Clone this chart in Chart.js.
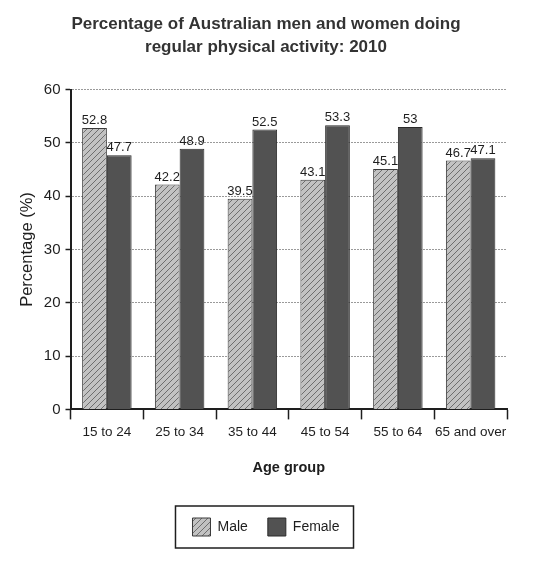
<!DOCTYPE html>
<html>
<head>
<meta charset="utf-8">
<script src="https://cdn.jsdelivr.net/npm/chart.js@4/dist/chart.umd.min.js"></script>
<style>
  html, body { margin: 0; padding: 0; background: #fff; }
  #wrap { width: 548px; height: 573px; }
</style>
</head>
<body>
<div id="wrap"><canvas id="myChart" width="548" height="573"></canvas></div>
<script>
const ageGroups = ['15 to 24', '25 to 34', '35 to 44', '45 to 54', '55 to 64', '65 and over'];
const maleValues = [52.8, 42.2, 39.5, 43.1, 45.1, 46.7];
const femaleValues = [47.7, 48.9, 52.5, 53.3, 53, 47.1];
const yTicks = [0, 10, 20, 30, 40, 50, 60];

const FONT = '"Liberation Sans", Arial, sans-serif';

// hatched fill for male bars
function hatch() {
  const c = document.createElement('canvas');
  c.width = 6; c.height = 6;
  const g = c.getContext('2d');
  g.fillStyle = '#c2c2c2';
  g.fillRect(0, 0, 6, 6);
  g.strokeStyle = '#6e6e6e';
  g.lineWidth = 1;
  g.beginPath();
  g.moveTo(0, 6); g.lineTo(6, 0);
  g.moveTo(-1, 1); g.lineTo(1, -1);
  g.moveTo(5, 7); g.lineTo(7, 5);
  g.stroke();
  return g.createPattern(c, 'repeat');
}

// value labels above the bars
const barLabels = {
  id: 'barLabels',
  afterDatasetsDraw(chart) {
    const ctx = chart.ctx;
    ctx.save();
    ctx.font = '13px "Liberation Sans Narrow", "Liberation Sans", Arial, sans-serif';
    ctx.fillStyle = '#1e1e1e';
    ctx.textAlign = 'center';
    ctx.textBaseline = 'bottom';
    chart.data.datasets.forEach((ds, i) => {
      chart.getDatasetMeta(i).data.forEach((bar, j) => {
        ctx.fillText(String(ds.data[j]), bar.x, bar.y - 1);
      });
    });
    ctx.restore();
  }
};

// frame around the legend
const legendBox = {
  id: 'legendBox',
  afterDraw(chart) {
    const boxes = chart.legend.legendHitBoxes;
    if (!boxes || !boxes.length) return;
    const l = Math.min(...boxes.map(b => b.left)) - 17;
    const r = Math.max(...boxes.map(b => b.left + b.width)) + 14;
    const cy = boxes[0].top + boxes[0].height / 2;
    const ctx = chart.ctx;
    ctx.save();
    ctx.strokeStyle = '#1e1e1e';
    ctx.lineWidth = 1.5;
    ctx.strokeRect(l, cy - 21, r - l, 42);
    ctx.restore();
  }
};

const ctx = document.getElementById('myChart').getContext('2d');
new Chart(ctx, {
  type: 'bar',
  data: {
    labels: ageGroups,
    datasets: [
      { label: 'Male', data: maleValues, backgroundColor: hatch(), borderColor: '#3a3a3a', borderWidth: 1 },
      { label: 'Female', data: femaleValues, backgroundColor: '#525252', borderColor: '#2a2a2a', borderWidth: 1 }
    ]
  },
  options: {
    responsive: false,
    animation: false,
    layout: { padding: { left: 25, right: 41, top: 0, bottom: 27 } },
    datasets: { bar: { categoryPercentage: 0.68, barPercentage: 1 } },
    plugins: {
      title: {
        display: true,
        text: ['Percentage of Australian men and women doing', 'regular physical activity: 2010'],
        color: '#333',
        font: { family: FONT, size: 17, weight: 'bold', lineHeight: 1.4 },
        padding: { top: 12, bottom: 30 }
      },
      legend: {
        position: 'bottom',
        labels: {
          color: '#1e1e1e',
          boxWidth: 18,
          boxHeight: 18,
          padding: 20,
          font: { family: FONT, size: 14 }
        }
      },
      tooltip: { enabled: false }
    },
    scales: {
      x: {
        grid: { offset: true, drawOnChartArea: false, tickLength: 10, tickColor: '#1e1e1e', tickWidth: 1.5 },
        border: { color: '#1e1e1e', width: 2 },
        ticks: { color: '#1e1e1e', font: { family: FONT, size: 13.5 }, maxRotation: 0, autoSkip: false, padding: 5 },
        title: {
          display: true, text: 'Age group', color: '#1e1e1e',
          font: { family: FONT, size: 14.5, weight: 'bold' },
          padding: { top: 14, bottom: 21 }
        }
      },
      y: {
        min: 0, max: 60,
        afterBuildTicks(scale) { scale.ticks = yTicks.map(v => ({ value: v })); },
        afterFit(scale) { scale.width = 45.5; },
        grid: { color: '#9a9a9a', tickColor: '#1e1e1e', tickLength: 5, tickWidth: 1.5 },
        border: { color: '#1e1e1e', width: 2, dash: [2, 1] },
        ticks: { color: '#1e1e1e', font: { family: FONT, size: 15 }, padding: 5 },
        title: {
          display: true, text: 'Percentage (%)', color: '#1e1e1e',
          font: { family: FONT, size: 16.5 },
          padding: { top: -7, bottom: 0 }
        }
      }
    }
  },
  plugins: [barLabels, legendBox]
});
</script>
</body>
</html>
